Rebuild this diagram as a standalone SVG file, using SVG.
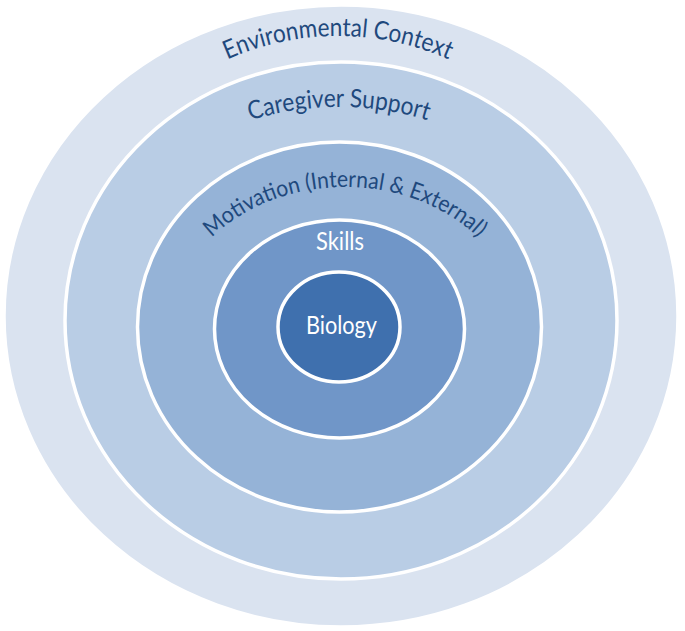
<svg xmlns="http://www.w3.org/2000/svg" width="685" height="631" viewBox="0 0 685 631">
<style>
.ring{stroke:#ffffff;stroke-width:3.5}
.lbl{font-family:Lato,"Open Sans","Liberation Sans",sans-serif;font-size:25.5px;fill:#1F497D}
.wlbl{font-family:Lato,"Open Sans","Liberation Sans",sans-serif;font-size:25px;fill:#ffffff;text-anchor:middle}
</style>
<defs>
<path id="pEnv" d="M 62,316 A 276 280 0 0 1 614,316"/>
<path id="pCare" d="M 84,321 A 255 214 0 0 1 594,321"/>
<path id="pMot" d="M 170,331 A 175 144 0 0 1 520,331"/>
</defs>
<rect width="685" height="631" fill="#ffffff"/>
<g id="environmental-context">
<ellipse class="ring" cx="341" cy="316" rx="337" ry="311" fill="#DAE3F0"/>
<text class="lbl"><textPath href="#pEnv" startOffset="50%" text-anchor="middle" textLength="228" lengthAdjust="spacingAndGlyphs">Environmental Context</textPath></text>
</g>
<g id="caregiver-support">
<ellipse class="ring" cx="341" cy="320.5" rx="276" ry="258.5" fill="#B9CDE5"/>
<text class="lbl"><textPath href="#pCare" startOffset="50%" text-anchor="middle" textLength="180" lengthAdjust="spacingAndGlyphs">Caregiver Support</textPath></text>
</g>
<g id="motivation">
<ellipse class="ring" cx="339.5" cy="327" rx="202" ry="185" fill="#95B3D7"/>
<text class="lbl" style="font-size:23px"><textPath href="#pMot" startOffset="50%" text-anchor="middle" textLength="292" lengthAdjust="spacingAndGlyphs">Motivation (Internal &amp; External)</textPath></text>
</g>
<g id="skills">
<ellipse class="ring" cx="339.5" cy="329" rx="125" ry="109" fill="#7096C8"/>
<text class="wlbl" x="340" y="250" font-size="24" textLength="48" lengthAdjust="spacingAndGlyphs">Skills</text>
</g>
<g id="biology">
<ellipse class="ring" cx="339" cy="327" rx="61" ry="55" fill="#3F70AE"/>
<text class="wlbl" x="341.5" y="334" textLength="71" lengthAdjust="spacingAndGlyphs">Biology</text>
</g>
</svg>
